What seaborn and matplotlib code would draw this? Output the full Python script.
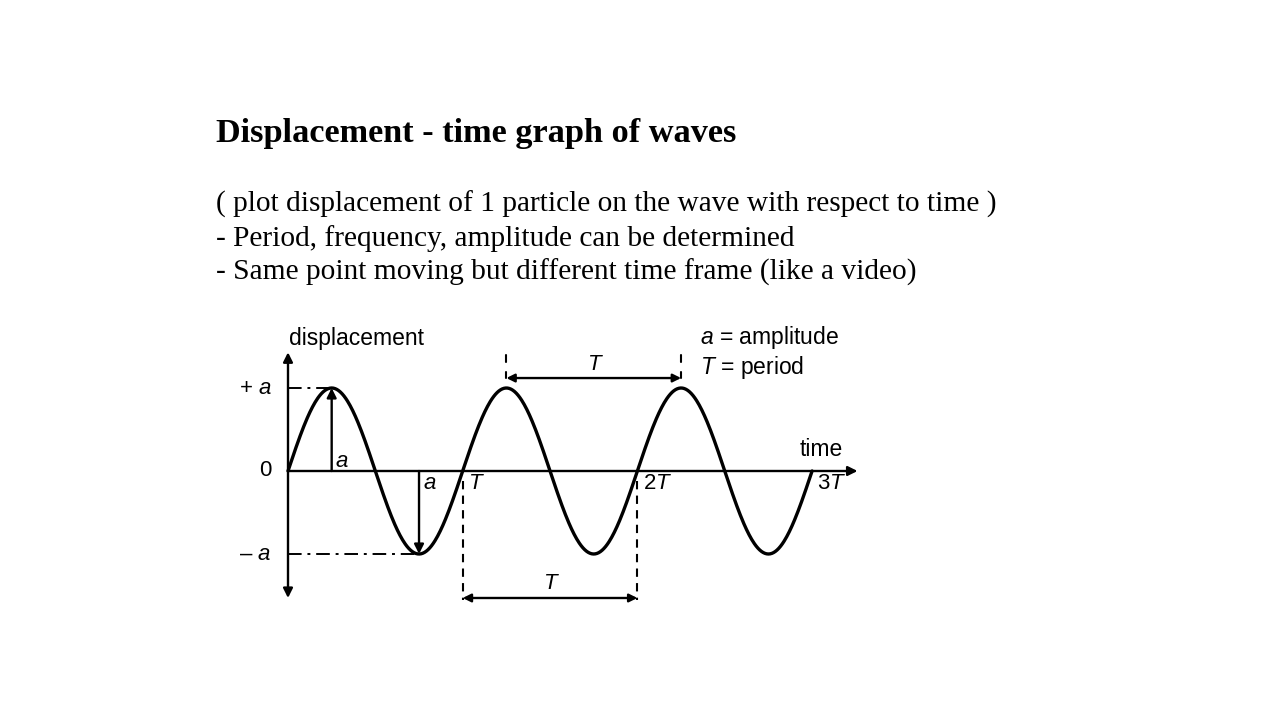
import numpy as np
import pandas as pd
import matplotlib
matplotlib.use("Agg")
import matplotlib.pyplot as plt
import seaborn as sns

# Textos de la diapositiva
title = "Displacement - time graph of waves"
bullets = [
    "( plot displacement of 1 particle on the wave with respect to time )",
    "- Period, frequency, amplitude can be determined",
    "- Same point moving but different time frame (like a video)",
]

# Onda: amplitud a = 1, periodo T = 1, tres periodos
amplitude = 1.0
period = 1.0
n_periods = 3
tick_times = [1, 2, 3]
tick_labels = ["$T$", "2$T$", "3$T$"]
level_values = [1, 0, -1]
level_labels = ["+ $a$", "0", "\u2013 $a$"]

t = np.linspace(0, n_periods * period, 600)
wave = pd.DataFrame({"time": t,
                     "displacement": amplitude * np.sin(2 * np.pi * t / period)})

sns.set_theme(style="white")
plt.rcParams["font.family"] = ["Liberation Sans", "DejaVu Sans"]
plt.rcParams["text.color"] = "black"
plt.rcParams["mathtext.fontset"] = "custom"
plt.rcParams["mathtext.rm"] = "Liberation Sans"
plt.rcParams["mathtext.it"] = "Liberation Sans:italic"

fig = plt.figure(figsize=(12.8, 7.2), dpi=100)
fig.patch.set_facecolor("white")

# Textos superiores (Times)
serif = ["Liberation Serif", "DejaVu Serif"]
fig.text(216 / 1280, 1 - 142 / 720, title, family=serif, fontweight="bold",
         fontsize=24.7, va="baseline", ha="left", color="black")
for i, line in enumerate(bullets):
    fig.text(216 / 1280, 1 - (212 + 34 * i) / 720, line, family=serif,
             fontsize=21.2, va="baseline", ha="left", color="black")

# Ejes del diagrama: x en unidades de T, y en unidades de a
x0_px, px_per_T = 288, 174.7
y0_px, px_per_a = 471, 83
left_px, right_px, top_px, bottom_px = 200, 900, 320, 620
ax = fig.add_axes([left_px / 1280, 1 - bottom_px / 720,
                   (right_px - left_px) / 1280, (bottom_px - top_px) / 720])
ax.set_xlim((left_px - x0_px) / px_per_T, (right_px - x0_px) / px_per_T)
ax.set_ylim((y0_px - bottom_px) / px_per_a, (y0_px - top_px) / px_per_a)
ax.axis("off")

sns.lineplot(data=wave, x="time", y="displacement", ax=ax, color="black",
             lw=2.4, legend=False)

arrow = dict(arrowstyle="-|>", color="black", lw=1.7, mutation_scale=14,
             shrinkA=0, shrinkB=0)
both = dict(arrowstyle="<|-|>", color="black", lw=1.7, mutation_scale=12,
            shrinkA=0, shrinkB=0)
fs = 16

# ejes con flechas
ax.annotate("", xy=(0, 1.43), xytext=(0, 0), arrowprops=arrow)
ax.annotate("", xy=(0, -1.53), xytext=(0, 0), arrowprops=arrow)
ax.annotate("", xy=(3.26, 0), xytext=(0, 0), arrowprops=arrow)

# líneas de amplitud
dashdot = (0, (7, 3, 1.5, 3))
ax.plot([0, 0.25], [amplitude, amplitude], color="black", lw=1.4, ls=dashdot)
ax.plot([0, 0.75], [-amplitude, -amplitude], color="black", lw=1.4, ls=dashdot)
ax.annotate("", xy=(0.25, amplitude), xytext=(0.25, 0), arrowprops=arrow)
ax.annotate("", xy=(0.75, -amplitude), xytext=(0.75, 0), arrowprops=arrow)
ax.text(0.31, 0.12, "$a$", fontsize=fs, ha="center", va="center")
ax.text(0.81, -0.145, "$a$", fontsize=fs, ha="center", va="center")

# periodo inferior
for xt in [1, 2]:
    ax.plot([xt, xt], [-0.12, -1.55], color="black", lw=1.5, ls=(0, (4, 3)))
ax.annotate("", xy=(2, -1.53), xytext=(1, -1.53), arrowprops=both)
ax.text(1.51, -1.36, "$T$", fontsize=fs, ha="center", va="center")

# periodo superior
for xt in [1.25, 2.25]:
    ax.plot([xt, xt], [1.31, 1.40], color="black", lw=1.5)
    ax.plot([xt, xt], [1.12, 1.19], color="black", lw=1.5)
ax.annotate("", xy=(2.25, 1.12), xytext=(1.25, 1.12), arrowprops=both)
ax.text(1.76, 1.28, "$T$", fontsize=fs, ha="center", va="center")

# etiquetas de tiempo y niveles
for xt, lab in zip(tick_times, tick_labels):
    ax.text(xt + 0.03, -0.145, lab, fontsize=fs, ha="left", va="center")
for yv, lab in zip(level_values, level_labels):
    ax.text(-0.095, yv, lab, fontsize=fs, ha="right", va="center")

ax.text(0.006, 1.60, "displacement", fontsize=16.5, ha="left", va="center")
ax.text(3.05, 0.26, "time", fontsize=16.5, ha="center", va="center")
ax.text(2.36, 1.61, "$a$ = amplitude", fontsize=16.5, ha="left", va="center")
ax.text(2.36, 1.25, "$T$ = period", fontsize=16.5, ha="left", va="center")

fig.savefig("out.png", dpi=100, facecolor="white")
